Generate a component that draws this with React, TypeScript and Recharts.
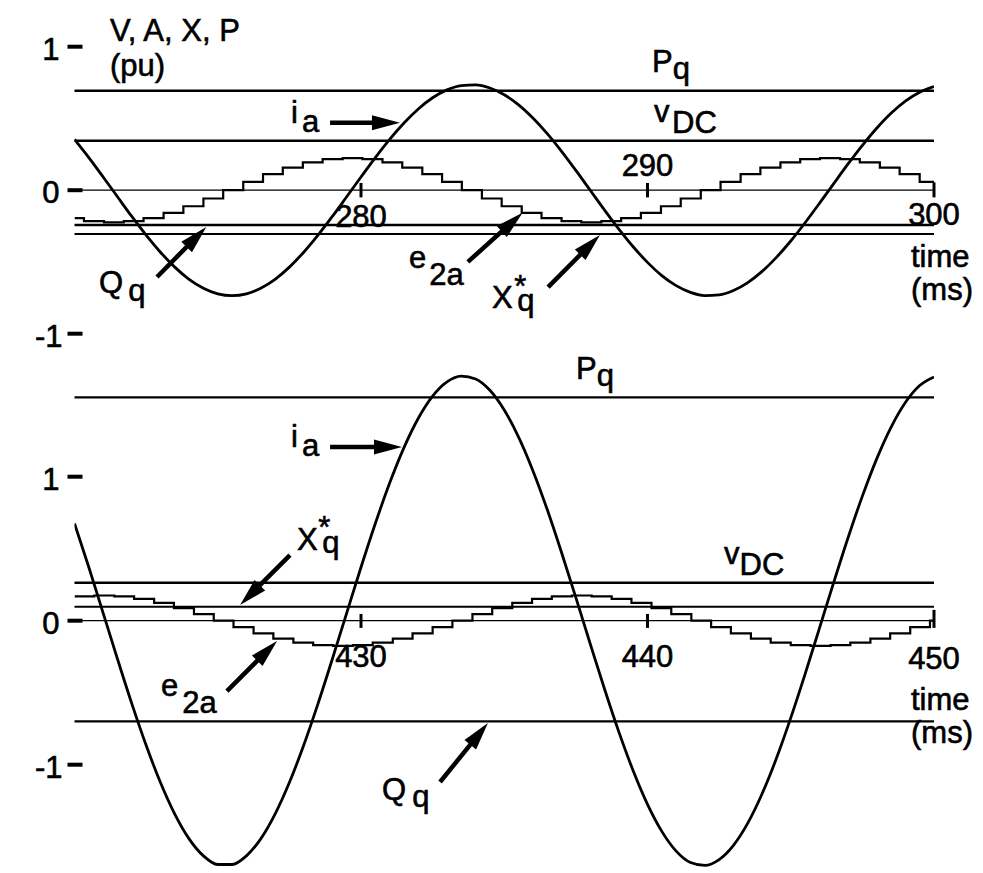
import React from 'react'
import { LineChart, Line, XAxis, YAxis, ReferenceLine } from 'recharts'

const FONT = '"Liberation Sans", Arial, Helvetica, sans-serif'

// top panel, 270-300 ms
const topIaTime = [
  270, 270.5, 271, 271.5, 272, 272.5, 273, 273.5, 274, 274.5, 275, 275.5, 276, 276.5, 277, 277.5,
  278, 278.5, 279, 279.5, 280, 280.5, 281, 281.5, 282, 282.5, 283, 283.5, 284, 284.5, 285, 285.5,
  286, 286.5, 287, 287.5, 288, 288.5, 289, 289.5, 290, 290.5, 291, 291.5, 292, 292.5, 293, 293.5,
  294, 294.5, 295, 295.5, 296, 296.5, 297, 297.5, 298, 298.5, 299, 299.5, 300,
]
const topIaValues = [
  0.354, 0.227, 0.092, -0.046, -0.183, -0.313, -0.432, -0.536, -0.621, -0.683, -0.722, -0.735,
  -0.722, -0.683, -0.621, -0.536, -0.432, -0.313, -0.183, -0.046, 0.092, 0.227, 0.354, 0.468,
  0.566, 0.644, 0.699, 0.729, 0.734, 0.712, 0.665, 0.595, 0.503, 0.394, 0.271, 0.138, 0, -0.138,
  -0.271, -0.394, -0.503, -0.595, -0.665, -0.712, -0.734, -0.729, -0.699, -0.644, -0.566, -0.468,
  -0.354, -0.227, -0.092, 0.046, 0.183, 0.313, 0.432, 0.536, 0.621, 0.683, 0.722,
]
const topE2aTime = [
  270, 270.33, 271.03, 271.72, 272.41, 273.11, 273.8, 274.5, 275.19, 275.89, 276.58, 277.27,
  277.97, 278.66, 279.36, 280.05, 280.75, 281.44, 282.14, 282.83, 283.52, 284.22, 284.91, 285.61,
  286.3, 287.0, 287.69, 288.39, 289.08, 289.77, 290.47, 291.16, 291.86, 292.55, 293.25, 293.94,
  294.64, 295.33, 296.02, 296.72, 297.41, 298.11, 298.8, 299.5, 300,
]
const topE2aValues = [
  -0.194, -0.216, -0.224, -0.216, -0.194, -0.158, -0.112, -0.058, 0, 0.058, 0.112, 0.158,
  0.194, 0.216, 0.224, 0.216, 0.194, 0.158, 0.112, 0.058, 0, -0.058, -0.112, -0.158,
  -0.194, -0.216, -0.224, -0.216, -0.194, -0.158, -0.112, -0.058, 0, 0.058, 0.112, 0.158,
  0.194, 0.216, 0.224, 0.216, 0.194, 0.158, 0.112, 0.058, 0.058,
]
// Pq, vDC, Qq, Xq*
const topLevelValues = [0.693, 0.345, -0.243, -0.305]
const topXTicks = [280, 290, 300]

// bottom panel, 420-450 ms
const bottomIaTime = [
  420, 420.5, 421, 421.5, 422, 422.5, 423, 423.5, 424, 424.5, 425, 425.5, 426, 426.5, 427, 427.5,
  428, 428.5, 429, 429.5, 430, 430.5, 431, 431.5, 432, 432.5, 433, 433.5, 434, 434.5, 435, 435.5,
  436, 436.5, 437, 437.5, 438, 438.5, 439, 439.5, 440, 440.5, 441, 441.5, 442, 442.5, 443, 443.5,
  444, 444.5, 445, 445.5, 446, 446.5, 447, 447.5, 448, 448.5, 449, 449.5, 450,
]
const bottomIaValues = [
  0.675, 0.371, 0.053, -0.266, -0.576, -0.865, -1.124, -1.343, -1.515, -1.633, -1.693, -1.693,
  -1.633, -1.515, -1.343, -1.124, -0.865, -0.576, -0.266, 0.053, 0.371, 0.675, 0.956, 1.202,
  1.406, 1.56, 1.659, 1.699, 1.679, 1.6, 1.463, 1.275, 1.042, 0.772, 0.474, 0.16, -0.16, -0.474,
  -0.772, -1.042, -1.275, -1.463, -1.6, -1.679, -1.699, -1.659, -1.56, -1.406, -1.202, -0.956,
  -0.675, -0.371, -0.053, 0.266, 0.576, 0.865, 1.124, 1.343, 1.515, 1.633, 1.693,
]
const bottomE2aTime = [
  420, 420.69, 421.39, 422.08, 422.78, 423.47, 424.17, 424.86, 425.55, 426.25, 426.94, 427.64,
  428.33, 429.03, 429.72, 430.41, 431.11, 431.8, 432.5, 433.19, 433.89, 434.58, 435.28, 435.97,
  436.66, 437.36, 438.05, 438.75, 439.44, 440.14, 440.83, 441.53, 442.22, 442.91, 443.61, 444.3,
  445.0, 445.69, 446.39, 447.08, 447.78, 448.47, 449.17, 449.86, 450,
]
const bottomE2aValues = [
  0.169, 0.175, 0.169, 0.152, 0.124, 0.088, 0.045, 0, -0.045, -0.088, -0.124, -0.152,
  -0.169, -0.175, -0.169, -0.152, -0.124, -0.088, -0.045, 0, 0.045, 0.088, 0.124, 0.152,
  0.169, 0.175, 0.169, 0.152, 0.124, 0.088, 0.045, 0, -0.045, -0.088, -0.124, -0.152,
  -0.169, -0.175, -0.169, -0.152, -0.124, -0.088, -0.045, 0, 0,
]
// Pq, vDC, Qq, Xq*
const bottomLevelValues = [1.551, 0.264, -0.699, 0.097]
const bottomXTicks = [430, 440, 450]

const yTicks = [-1, 0, 1]

const toRows = (ts: number[], vs: number[]) => ts.map((t, i) => ({ t, v: vs[i] }))

const levelWidths = [2.4, 2.4, 2.4, 1.9]

// scanned-looking text: a thin stroke thickens the regular face a little
const inkText = { fill: '#000', stroke: '#000', strokeWidth: 0.6, fontSize: 31 }

function YTick(props: any) {
  const { x, y, payload } = props
  const v = payload.value
  return (
    <g>
      <text x={x - (v < 0 ? 12 : 15)} y={y + 13} textAnchor="end" {...inkText}>
        {v}
      </text>
      <line x1={x - 7} x2={x + 8} y1={y} y2={y} stroke="#000" strokeWidth={4} />
    </g>
  )
}

function Arrow(props: any) {
  const { x1, y1, x2, y2 } = props
  const dx = x2 - x1
  const dy = y2 - y1
  const len = Math.hypot(dx, dy) || 1
  const ux = dx / len
  const uy = dy / len
  const head = 28
  const half = 7.5
  const bx = x2 - ux * head
  const by = y2 - uy * head
  return (
    <g>
      <line x1={x1} y1={y1} x2={bx + ux * 3} y2={by + uy * 3} stroke="#000" strokeWidth={4.5} />
      <polygon
        points={`${x2},${y2} ${bx - uy * half},${by + ux * half} ${bx + uy * half},${by - ux * half}`}
        fill="#000"
      />
    </g>
  )
}

function Panel(props: {
  width: number
  height: number
  margin: { top: number; right: number; bottom: number; left: number }
  xDomain: [number, number]
  yDomain: [number, number]
  ia: { t: number; v: number }[]
  e2a: { t: number; v: number }[]
  levels: number[]
  xTicks: number[]
  tickSpans: [number, number][]
  tickLabelPos: ('top' | 'bottom')[]
  tickLabelOffsets: number[]
  arrows: [number, number, number, number][]
}) {
  const p = props
  return (
    <LineChart width={p.width} height={p.height} margin={p.margin}>
      <XAxis type="number" dataKey="t" domain={p.xDomain} hide allowDataOverflow />
      <YAxis
        type="number"
        domain={p.yDomain}
        ticks={yTicks}
        interval={0}
        width={60}
        axisLine={false}
        tickLine={false}
        tickSize={0}
        tickMargin={0}
        tick={(tp: any) => <YTick {...tp} />}
      />
      <ReferenceLine y={0} stroke="#000" strokeWidth={1.2} />
      {p.levels.map((lv, i) => (
        <ReferenceLine key={'lv' + i} y={lv} stroke="#000" strokeWidth={levelWidths[i]} />
      ))}
      {p.xTicks.map((tk, i) => (
        <ReferenceLine
          key={'tk' + tk}
          segment={[
            { x: tk, y: p.tickSpans[i][0] },
            { x: tk, y: p.tickSpans[i][1] },
          ]}
          stroke="#000"
          strokeWidth={3}
          label={{
            value: String(tk),
            position: p.tickLabelPos[i],
            offset: p.tickLabelOffsets[i],
            ...inkText,
          }}
        />
      ))}
      <Line
        data={p.e2a}
        dataKey="v"
        type="stepAfter"
        stroke="#000"
        strokeWidth={2.2}
        dot={false}
        activeDot={false}
        isAnimationActive={false}
      />
      <Line
        data={p.ia}
        dataKey="v"
        type="monotone"
        stroke="#000"
        strokeWidth={2.8}
        dot={false}
        activeDot={false}
        isAnimationActive={false}
      />
      {p.arrows.map((a, i) => (
        <ReferenceLine
          key={'ar' + i}
          segment={[
            { x: a[0], y: a[1] },
            { x: a[2], y: a[3] },
          ]}
          shape={(sp: any) => <Arrow {...sp} />}
        />
      ))}
    </LineChart>
  )
}

// a symbol with a shifted second part (subscript / superscript)
function Sym(props: {
  x: number
  y: number
  main: string
  parts?: { text: string; dx: number; dy: number }[]
}) {
  return (
    <text x={props.x} y={props.y} {...inkText}>
      {props.main}
      {(props.parts || []).map((pt, i) => (
        <tspan key={i} dx={pt.dx} dy={pt.dy}>
          {pt.text}
        </tspan>
      ))}
    </text>
  )
}

export default function App() {
  return (
    <div
      style={{
        position: 'absolute',
        left: 0,
        top: 0,
        width: 983,
        height: 873,
        background: '#fff',
        fontFamily: FONT,
        overflow: 'hidden',
      }}
    >
      <div style={{ position: 'absolute', left: 0, top: 0 }}>
        <Panel
          width={983}
          height={360}
          margin={{ top: 46.7, right: 49, bottom: 26.3, left: 14.5 }}
          xDomain={[270, 300]}
          yDomain={[-1, 1]}
          ia={toRows(topIaTime, topIaValues)}
          e2a={toRows(topE2aTime, topE2aValues)}
          levels={topLevelValues}
          xTicks={topXTicks}
          tickSpans={[[0.05, -0.05], [0.05, -0.05], [0.055, -0.05]]}
          tickLabelPos={['bottom', 'top', 'bottom']}
          tickLabelOffsets={[8, 7, 6]}
          arrows={[
            [278.92, 0.47, 281.36, 0.47],
            [272.88, -0.605, 274.6, -0.256],
            [283.73, -0.5, 285.64, -0.157],
            [286.53, -0.675, 288.34, -0.312],
          ]}
        />
      </div>
      <div style={{ position: 'absolute', left: 0, top: 340 }}>
        <Panel
          width={983}
          height={533}
          margin={{ top: 28.7, right: 49, bottom: 0.3, left: 14.5 }}
          xDomain={[420, 450]}
          yDomain={[-1.75, 1.75]}
          ia={toRows(bottomIaTime, bottomIaValues)}
          e2a={toRows(bottomE2aTime, bottomE2aValues)}
          levels={bottomLevelValues}
          xTicks={bottomXTicks}
          tickSpans={[[0.047, -0.05], [0.047, -0.05], [0.075, -0.05]]}
          tickLabelPos={['bottom', 'bottom', 'bottom']}
          tickLabelOffsets={[17, 17, 19]}
          arrows={[
            [428.92, 1.206, 431.43, 1.206],
            [427.52, 0.456, 425.78, 0.109],
            [425.32, -0.489, 427.07, -0.141],
            [432.76, -1.12, 434.43, -0.71],
          ]}
        />
      </div>
      <svg
        width={983}
        height={873}
        style={{ position: 'absolute', left: 0, top: 0, pointerEvents: 'none' }}
      >
        {/* top panel labels */}
        <Sym x={110} y={41} main="V, A, X, P" />
        <Sym x={110} y={76} main="(pu)" />
        <Sym x={291} y={123} main="i" parts={[{ text: 'a', dx: 4, dy: 9 }]} />
        <Sym x={652} y={72} main="P" parts={[{ text: 'q', dx: 0, dy: 7 }]} />
        <Sym x={654} y={122} main="v" parts={[{ text: 'DC', dx: 2.5, dy: 11 }]} />
        <Sym x={99} y={293} main="Q" parts={[{ text: 'q', dx: 5, dy: 8 }]} />
        <Sym x={409} y={268} main="e" parts={[{ text: '2a', dx: 3, dy: 17 }]} />
        <Sym
          x={492}
          y={308}
          main="X"
          parts={[
            { text: '*', dx: 1.5, dy: -11 },
            { text: 'q', dx: -9, dy: 14 },
          ]}
        />
        <Sym x={911} y={267} main="time" />
        <Sym x={911} y={300} main="(ms)" />
        {/* bottom panel labels */}
        <Sym x={291} y={447} main="i" parts={[{ text: 'a', dx: 4, dy: 9 }]} />
        <Sym x={576} y={379} main="P" parts={[{ text: 'q', dx: 0, dy: 7 }]} />
        <Sym x={724} y={564} main="v" parts={[{ text: 'DC', dx: 0, dy: 11 }]} />
        <Sym
          x={297}
          y={550}
          main="X"
          parts={[
            { text: '*', dx: 0.5, dy: -12 },
            { text: 'q', dx: -8, dy: 15 },
          ]}
        />
        <Sym x={161} y={696} main="e" parts={[{ text: '2a', dx: 4, dy: 17 }]} />
        <Sym x={382} y={800} main="Q" parts={[{ text: 'q', dx: 6, dy: 7 }]} />
        <Sym x={911} y={710} main="time" />
        <Sym x={911} y={743} main="(ms)" />
      </svg>
    </div>
  )
}
